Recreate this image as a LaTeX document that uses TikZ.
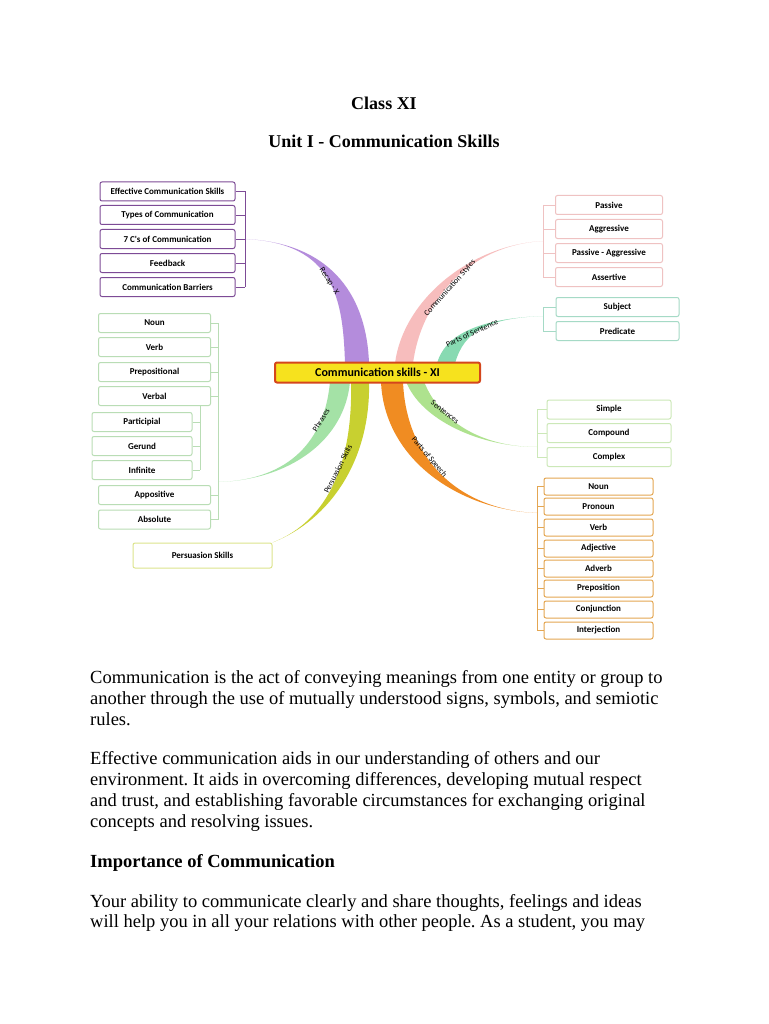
\documentclass[tikz,border=0pt]{standalone}
\usepackage{fontspec}
\setmainfont{Liberation Serif}
\newfontfamily\boxfont{Carlito}
\usetikzlibrary{calc,positioning,backgrounds}
\frenchspacing

\definecolor{recapc}{HTML}{B48CDC}
\definecolor{recapb}{HTML}{7D4B96}
\definecolor{phrasec}{HTML}{A4E2A6}
\definecolor{phraseb}{HTML}{B9DDB5}
\definecolor{persc}{HTML}{C8D030}
\definecolor{persb}{HTML}{DCE48C}
\definecolor{stylec}{HTML}{F7BDBD}
\definecolor{styleb}{HTML}{EFC2C2}
\definecolor{partc}{HTML}{88DAB2}
\definecolor{partb}{HTML}{A5DAC6}
\definecolor{sentc}{HTML}{AEE28E}
\definecolor{sentb}{HTML}{CCE8B8}
\definecolor{speechc}{HTML}{F08C22}
\definecolor{speechb}{HTML}{E4A652}
\definecolor{hubfill}{HTML}{F6E21E}
\definecolor{hubline}{HTML}{D4461C}

% tapered branch: colour, start, control 1, control 2, end, half width
\newcommand{\ribbon}[6]{
    \fill[#1] ($#2+(-#6,0)$) .. controls ($#3+(-#6,0)$) and #4 .. #5
        .. controls #4 and ($#3+(#6,0)$) .. ($#2+(#6,0)$) -- cycle;
}

\begin{document}
\begin{tikzpicture}[
    x=1pt, y=-1pt,
    hub/.style={draw=hubline, line width=2pt, fill=hubfill, rounded corners=2pt,
        minimum width=205pt, minimum height=20pt, inner sep=0pt,
        font=\boxfont\bfseries\fontsize{12}{14}\selectfont},
    leaf/.style={draw=#1, line width=1pt, fill=white, rounded corners=2pt,
        minimum height=19pt, inner sep=0pt,
        font=\boxfont\bfseries\fontsize{9}{11}\selectfont},
    twig/.style={draw=#1, line width=0.8pt},
    tag/.style={inner sep=0pt, font=\boxfont\fontsize{8}{10}\selectfont},
    para/.style={anchor=base west, inner sep=0pt, font=\fontsize{18.5}{21}\selectfont},
    head/.style={anchor=base, inner sep=0pt, font=\bfseries\fontsize{18}{21}\selectfont}
]
\useasboundingbox (0,0) rectangle (768,1024);

% titles
\node[head] (title) at (384,110) {Class XI};
\node[head] (unit) at (384,148) {Unit I - Communication Skills};

% centre
\node[hub] (hub) at (377.5,372.5) {Communication skills - XI};

% recap boxes
\foreach \y/\t [count=\i] in {191.5/Effective Communication Skills, 215/Types of Communication,
        239/7 C's of Communication, 263/Feedback, 287/Communication Barriers}
    \node[leaf=recapb, minimum width=135pt] (r\i) at (167.5,\y) {\t};
\coordinate (recapT) at (245,0);
\foreach \i in {1,...,5}
    \draw[twig=recapb] (r\i.east) -- (r\i.east -| recapT);
\draw[twig=recapb] (r1.east -| recapT) -- (r5.east -| recapT);

% phrases
\foreach \y/\t [count=\i] in {323/Noun, 347/Verb, 372/Prepositional, 396/Verbal}
    \node[leaf=phraseb, minimum width=112pt] (p\i) at (154.5,\y) {\t};
\foreach \y/\t [count=\i from 5] in {422/Participial, 446/Gerund, 470/Infinite}
    \node[leaf=phraseb, minimum width=100pt] (p\i) at (142,\y) {\t};
\foreach \y/\t [count=\i from 8] in {495/Appositive, 519.5/Absolute}
    \node[leaf=phraseb, minimum width=112pt] (p\i) at (154.5,\y) {\t};
\coordinate (phraseT) at (218,0);
\coordinate (verbalT) at (200,0);
\foreach \i in {1,2,3,4,8,9}
    \draw[twig=phraseb] (p\i.east) -- (p\i.east -| phraseT);
\draw[twig=phraseb] (p1.east -| phraseT) -- (p9.east -| phraseT);
\foreach \i in {5,6,7}
    \draw[twig=phraseb] (p\i.east) -- (p\i.east -| verbalT);
\draw[twig=phraseb] (p4.south -| verbalT) -- (p7.east -| verbalT);
\coordinate (phraseE) at (218,482);

% persuasion
\node[leaf=persb, minimum width=139pt, minimum height=25pt] (pers) at (202.5,555.5) {Persuasion Skills};

% communication styles
\foreach \y/\t [count=\i] in {205/Passive, 229/Aggressive, 253/Passive - Aggressive, 277/Assertive}
    \node[leaf=styleb, minimum width=107pt] (s\i) at (609,\y) {\t};
\coordinate (styleT) at (543,0);
\foreach \i in {1,...,4}
    \draw[twig=styleb] (s\i.west) -- (s\i.west -| styleT);
\draw[twig=styleb] (s1.west -| styleT) -- (s4.west -| styleT);
\coordinate (styleE) at (543,241);

% parts of sentence
\foreach \y/\t [count=\i] in {307/Subject, 331/Predicate}
    \node[leaf=partb, minimum width=123pt] (t\i) at (617.5,\y) {\t};
\foreach \i in {1,2}
    \draw[twig=partb] (t\i.west) -- (t\i.west -| styleT);
\draw[twig=partb] (t1.west -| styleT) -- (t2.west -| styleT);
\coordinate (partE) at (543,316);

% sentences
\foreach \y/\t [count=\i] in {409.5/Simple, 433/Compound, 457/Complex}
    \node[leaf=sentb, minimum width=124pt] (n\i) at (609,\y) {\t};
\coordinate (sentT) at (537,0);
\foreach \i in {1,2,3}
    \draw[twig=sentb] (n\i.west) -- (n\i.west -| sentT);
\draw[twig=sentb] (n1.west -| sentT) -- (n3.west -| sentT);
\coordinate (sentE) at (537,447);

% parts of speech
\foreach \y/\t [count=\i] in {486.5/Noun, 506.5/Pronoun, 527.5/Verb, 548.5/Adjective,
        568.5/Adverb, 588.5/Preposition, 609.5/Conjunction, 630.5/Interjection}
    \node[leaf=speechb, minimum width=109pt, minimum height=17pt] (o\i) at (598.5,\y) {\t};
\foreach \i in {1,...,8}
    \draw[twig=speechb] (o\i.west) -- (o\i.west -| sentT);
\draw[twig=speechb] (o1.west -| sentT) -- (o8.west -| sentT);
\coordinate (speechE) at (537,513);

% branches
\begin{scope}[on background layer]
\fill[white] (0,0) rectangle (768,1024);
\coordinate (recapS) at ($(hub.north)+(-20.5,2)$);
\coordinate (styleS) at ($(hub.north)+(26.5,2)$);
\coordinate (partS) at ($(hub.north)+(68.5,2)$);
\coordinate (sentS) at ($(hub.south)+(37.5,-2)$);
\coordinate (speechS) at ($(hub.south)+(14.5,-2)$);
\coordinate (phraseS) at ($(hub.south)+(-37.5,-2)$);
\coordinate (persS) at ($(hub.south)+(-17.5,-2)$);
\ribbon{recapc}{(recapS)}{(355,300)}{(335,243)}{(r3.east -| recapT)}{12}
\ribbon{stylec}{(styleS)}{(412,300)}{(470,245)}{(styleE)}{9}
\ribbon{partc}{(partS)}{(455,330)}{(490,318)}{(partE)}{9}
\ribbon{sentc}{(sentS)}{(430,420)}{(480,447)}{(sentE)}{9}
\ribbon{speechc}{(speechS)}{(395,460)}{(460,510)}{(speechE)}{11}
\ribbon{phrasec}{(phraseS)}{(335,440)}{(290,480)}{(phraseE)}{10}
\ribbon{persc}{(persS)}{(362,460)}{(330,520)}{(pers.north east)}{9}
\end{scope}

% branch labels
\node[tag, rotate=-57] (recapL) at (329,281) {Recap - X};
\node[tag, rotate=48] (styleL) at (450,288) {Communication Styles};
\node[tag, rotate=25] (partL) at (472,333) {Parts of Sentence};
\node[tag, rotate=-38] (sentL) at (445,412) {Sentences};
\node[tag, rotate=-50] (speechL) at (429,457) {Parts of Speech};
\node[tag, rotate=58] (phraseL) at (321,420) {Phrases};
\node[tag, rotate=63] (persL) at (338,469) {Persuasion Skills};

% body text
\foreach \y/\t [count=\i] in {
        683/{Communication is the act of conveying meanings from one entity or group to},
        704/{another through the use of mutually understood signs, symbols, and semiotic},
        725/{rules.},
        764/{Effective communication aids in our understanding of others and our},
        785/{environment. It aids in overcoming differences, developing mutual respect},
        806/{and trust, and establishing favorable circumstances for exchanging original},
        827/{concepts and resolving issues.},
        907/{Your ability to communicate clearly and share thoughts, feelings and ideas},
        927/{will help you in all your relations with other people. As a student, you may}}
    \node[para] (line\i) at (90,\y) {\t};
\node[para, font=\bfseries\fontsize{18.5}{21}\selectfont] (importance) at (90,867) {Importance of Communication};

\end{tikzpicture}
\end{document}
